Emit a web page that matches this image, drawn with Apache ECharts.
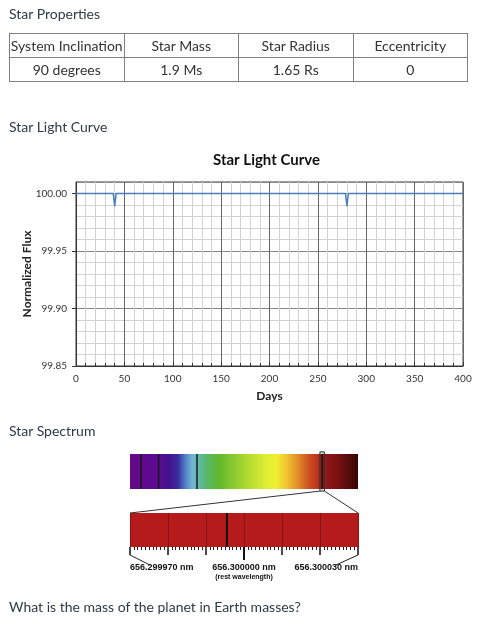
<!DOCTYPE html>
<html><head><meta charset="utf-8">
<script src="https://cdn.jsdelivr.net/npm/echarts@6/dist/echarts.min.js"></script>
<style>
body{margin:0;width:485px;height:618px;position:relative;background:#fff;font-family:Lato,sans-serif;color:#2d3b45;overflow:hidden}
#chart{position:absolute;left:0;top:0;width:485px;height:618px}
.h{position:absolute;left:9px;font-size:14px;line-height:16px;white-space:nowrap}
table{position:absolute;left:9px;top:33px;width:459px;border-collapse:collapse;table-layout:fixed;font-size:14px;color:#333}
td{border:1px solid #808080;height:23px;text-align:center;padding:0;line-height:16px}
</style></head><body>
<div id="chart"></div>
<div class="h" style="top:6px">Star Properties</div>
<table id="props"></table>
<div class="h" style="top:119px">Star Light Curve</div>
<div class="h" style="top:423px">Star Spectrum</div>
<div class="h" style="top:599px">What is the mass of the planet in Earth masses?</div>
<script>
// ---- data ----
const propHeaders = ['System Inclination', 'Star Mass', 'Star Radius', 'Eccentricity'];
const propValues = ['90 degrees', '1.9 Ms', '1.65 Rs', '0'];

const days = [0, 38.5, 39.5, 40, 40.5, 41.5, 278.5, 279.5, 280, 280.5, 281.5, 400];
const flux = [100, 100, 99.993, 99.989, 99.993, 100, 100, 99.993, 99.989, 99.993, 100, 100];

const spectrumRange = [395, 705];            // nm, full visible bar
const spectrumLines = [410.2, 434.0, 486.1, 656.3]; // absorption lines (nm)
const zoomWindow = [653.2, 659.4];           // highlighted box (nm)
const zoomRange = [-30, 30];                 // offset from 656.300000 nm, in 1e-6 nm
const zoomLines = [-4.5];                    // observed line offset
const zoomTickLabels = {'-30': '656.299970 nm', '0': '656.300000 nm', '30': '656.300030 nm'};
const restNote = '(rest wavelength)';

// ---- table ----
const tbl = document.getElementById('props');
tbl.innerHTML = '<tr>' + propHeaders.map(h => '<td>' + h + '</td>').join('') + '</tr>' +
  '<tr>' + propValues.map(v => '<td>' + v + '</td>').join('') + '</tr>';

// ---- chart ----
const chart = echarts.init(document.getElementById('chart'));
const rainbow = new echarts.graphic.LinearGradient(0, 0, 1, 0, [
  {offset: 0, color: '#640a88'}, {offset: 0.12, color: '#5a0a92'}, {offset: 0.17, color: '#44128e'},
  {offset: 0.21, color: '#3a2a9e'}, {offset: 0.245, color: '#5486c8'}, {offset: 0.275, color: '#70b6d2'},
  {offset: 0.30, color: '#62b8b0'}, {offset: 0.33, color: '#56b872'}, {offset: 0.39, color: '#62b82e'},
  {offset: 0.50, color: '#a8d630'}, {offset: 0.60, color: '#e0ee34'}, {offset: 0.64, color: '#f0f030'},
  {offset: 0.69, color: '#f0c030'}, {offset: 0.74, color: '#e08828'}, {offset: 0.79, color: '#cc4a20'},
  {offset: 0.835, color: '#b42a1a'}, {offset: 0.86, color: '#921616'}, {offset: 0.90, color: '#801212'},
  {offset: 0.95, color: '#5e0c0c'}, {offset: 1, color: '#380606'}
]);

const option = {
  animation: false,
  textStyle: {fontFamily: 'Lato'},
  grid: [
    {left: 76, top: 182, width: 387, height: 184, show: true, borderColor: '#3a3a3a', borderWidth: 1},
    {left: 130, top: 454, width: 228, height: 35},
    {left: 130, top: 513, width: 228, height: 34, show: true, backgroundColor: '#b51b1b', borderWidth: 0}
  ],
  xAxis: [
    {gridIndex: 0, type: 'value', min: 0, max: 400, interval: 50,
     name: 'Days', nameLocation: 'middle', nameGap: 24, nameMoveOverlap: false,
     nameTextStyle: {fontWeight: 'bold', fontSize: 12, color: '#222', fontFamily: 'Lato'},
     axisLine: {lineStyle: {color: '#333'}},
     axisTick: {inside: true, length: 4, lineStyle: {color: '#333'}},
     minorTick: {show: true, splitNumber: 5, length: 3, lineStyle: {color: '#333'}},
     axisLabel: {fontSize: 10, color: '#333', margin: 8},
     splitLine: {lineStyle: {color: '#666'}},
     minorSplitLine: {show: true, lineStyle: {color: '#d2d2d2'}}},
    {gridIndex: 1, type: 'value', min: spectrumRange[0], max: spectrumRange[1], show: false},
    {gridIndex: 2, type: 'value', min: zoomRange[0], max: zoomRange[1], interval: 10,
     axisLine: {show: false},
     axisTick: {length: 8, lineStyle: {color: '#111', width: 1.5}},
     minorTick: {show: true, splitNumber: 10, length: 3, lineStyle: {color: '#222', width: 1}},
     splitLine: {show: true, lineStyle: {color: '#861212', width: 1}},
     axisLabel: {margin: 16, color: '#111', fontFamily: 'Liberation Sans', fontWeight: 'bold', fontSize: 9,
       alignMinLabel: 'left', alignMaxLabel: 'right',
       formatter: v => {
         const k = String(Math.round(v));
         if (!(k in zoomTickLabels)) return '';
         return k === '0' ? '{a|' + zoomTickLabels[k] + '}\n{b|' + restNote + '}' : '{a|' + zoomTickLabels[k] + '}';
       },
       rich: {
         a: {fontFamily: 'Liberation Sans', fontWeight: 'bold', fontSize: 9, lineHeight: 10, color: '#111'},
         b: {fontFamily: 'Liberation Sans', fontWeight: 'bold', fontSize: 7, lineHeight: 8, color: '#111'}
       }}}
  ],
  yAxis: [
    {gridIndex: 0, type: 'value', min: 99.85, max: 100.01, interval: 0.05,
     name: 'Normalized Flux', nameLocation: 'middle', nameGap: 43, nameMoveOverlap: false,
     nameTextStyle: {fontWeight: 'bold', fontSize: 12, color: '#222', fontFamily: 'Lato'},
     axisLine: {show: true, lineStyle: {color: '#333'}},
     axisTick: {show: true, length: 4, lineStyle: {color: '#333'}},
     axisLabel: {fontSize: 10, color: '#333', margin: 9, showMaxLabel: false, formatter: v => v.toFixed(2)},
     splitLine: {lineStyle: {color: '#888'}},
     minorTick: {show: false, splitNumber: 5},
     minorSplitLine: {show: true, lineStyle: {color: '#d2d2d2'}}},
    {gridIndex: 1, type: 'value', min: 0, max: 1, show: false},
    {gridIndex: 2, type: 'value', min: 0, max: 1, show: false}
  ],
  series: [
    {type: 'line', xAxisIndex: 0, yAxisIndex: 0, showSymbol: false,
     data: days.map((d, i) => [d, flux[i]]),
     lineStyle: {color: '#4a7ebb', width: 1.5}},
    {type: 'custom', xAxisIndex: 1, yAxisIndex: 1, data: [[spectrumRange[0], spectrumRange[1]]],
     renderItem: (p, api) => {
       const a = api.coord([api.value(0), 1]), b = api.coord([api.value(1), 0]);
       return {type: 'rect', shape: {x: a[0], y: a[1], width: b[0] - a[0], height: b[1] - a[1]}, style: {fill: rainbow}};
     }},
    {type: 'custom', xAxisIndex: 1, yAxisIndex: 1, data: spectrumLines.map(w => [w, 0]),
     renderItem: (p, api) => {
       const a = api.coord([api.value(0), 1]), b = api.coord([api.value(0), 0]);
       return {type: 'line', shape: {x1: a[0], y1: a[1], x2: b[0], y2: b[1]}, style: {stroke: '#1a1a1a', lineWidth: 1.5}};
     }},
    {type: 'custom', xAxisIndex: 1, yAxisIndex: 1, data: [[zoomWindow[0], zoomWindow[1]]],
     renderItem: (p, api) => {
       const a = api.coord([api.value(0), 1.06]), b = api.coord([api.value(1), -0.06]);
       return {type: 'rect', shape: {x: a[0], y: a[1], width: b[0] - a[0], height: b[1] - a[1]},
               style: {fill: 'rgba(0,0,0,0.15)', stroke: '#333', lineWidth: 1}};
     }},
    {type: 'custom', xAxisIndex: 2, yAxisIndex: 2, data: zoomLines.map(v => [v, 0]),
     renderItem: (p, api) => {
       const a = api.coord([api.value(0), 1]), b = api.coord([api.value(0), 0]);
       return {type: 'line', shape: {x1: a[0], y1: a[1], x2: b[0], y2: b[1]}, style: {stroke: '#111', lineWidth: 2}};
     }},
    {type: 'custom', xAxisIndex: 2, yAxisIndex: 2, data: [[0, 0]],
     renderItem: (p, api) => {
       const a = api.coord([api.value(0), 0]);
       return {type: 'line', shape: {x1: a[0], y1: a[1], x2: a[0], y2: a[1] + 13}, style: {stroke: '#111', lineWidth: 2}};
     }}
  ]
};
chart.setOption(option);

// connectors computed from the axes' scales
const boxBL = chart.convertToPixel({gridIndex: 1}, [zoomWindow[0], -0.06]);
const boxBR = chart.convertToPixel({gridIndex: 1}, [zoomWindow[1], -0.06]);
const zTL = chart.convertToPixel({gridIndex: 2}, [zoomRange[0], 1]);
const zTR = chart.convertToPixel({gridIndex: 2}, [zoomRange[1], 1]);
const zBL = chart.convertToPixel({gridIndex: 2}, [zoomRange[0], 0]);
const zBR = chart.convertToPixel({gridIndex: 2}, [zoomRange[1], 0]);
const lc = chart.convertToPixel({gridIndex: 0}, [200, 100]);
chart.setOption({
  graphic: [
    {type: 'text', x: lc[0] - 3, y: 153, style: {text: 'Star Light Curve', font: 'bold 15px Lato', fill: '#111', textAlign: 'center'}},
    {type: 'line', shape: {x1: boxBL[0], y1: boxBL[1], x2: zTL[0], y2: zTL[1]}, style: {stroke: '#333', lineWidth: 1}},
    {type: 'line', shape: {x1: boxBR[0], y1: boxBR[1], x2: zTR[0], y2: zTR[1]}, style: {stroke: '#333', lineWidth: 1}},
    {type: 'line', shape: {x1: zBL[0], y1: zBL[1] + 8, x2: zBL[0] + 20, y2: zBL[1] + 18}, style: {stroke: '#222', lineWidth: 1}},
    {type: 'line', shape: {x1: zBR[0], y1: zBR[1] + 8, x2: zBR[0] - 22, y2: zBR[1] + 18}, style: {stroke: '#222', lineWidth: 1}}
  ]
});
</script>
</body></html>
